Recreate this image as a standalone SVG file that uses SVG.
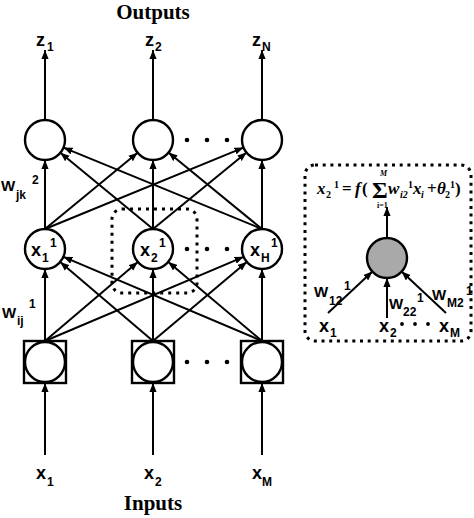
<svg xmlns="http://www.w3.org/2000/svg" width="474" height="518" viewBox="0 0 474 518">
<defs>
<marker id="ah" viewBox="0 0 10 8" refX="10" refY="4" markerWidth="9" markerHeight="7.5" markerUnits="userSpaceOnUse" orient="auto">
<path d="M0,0 L10,4 L0,8 z" fill="#000"/>
</marker>
<style>
.node{fill:#fff;stroke:#000;stroke-width:2.4}
.gray{fill:#a9a9a9;stroke:#000;stroke-width:2.4}
.edge{stroke:#000;stroke-width:2;fill:none;marker-end:url(#ah)}
.dot{fill:#000}
.box{fill:none;stroke:#000;stroke-width:3}
.lbl{font-family:"Liberation Sans",Arial,sans-serif;font-weight:bold;fill:#000}
.big{font-size:18px}
.w{font-size:15px}
.s{font-size:12px}
.title{font-family:"Liberation Serif","Times New Roman",serif;font-weight:bold;font-size:21px;text-anchor:middle;fill:#000}
.f{font-family:"Liberation Serif","Times New Roman",serif;font-weight:bold;font-style:italic;font-size:17px;fill:#000}
.fu{font-family:"Liberation Serif","Times New Roman",serif;font-weight:bold;font-size:17px;fill:#000}
.fs{font-family:"Liberation Serif","Times New Roman",serif;font-weight:bold;font-size:10px;fill:#000}
.sig{font-family:"Liberation Serif","Times New Roman",serif;font-weight:bold;font-size:24px;fill:#000}
.lim{font-family:"Liberation Serif","Times New Roman",serif;font-weight:bold;font-size:8px;fill:#000}
</style>
</defs>
<rect width="474" height="518" fill="#fff"/>

<text class="title" x="153" y="19">Outputs</text>
<text class="title" x="153" y="510">Inputs</text>

<g id="connectors">
<line class="edge" x1="45" y1="120" x2="45" y2="50"/>
<line class="edge" x1="153" y1="120" x2="153" y2="50"/>
<line class="edge" x1="262" y1="120" x2="262" y2="50"/>
<line class="edge" x1="45" y1="229" x2="45" y2="160"/>
<line class="edge" x1="45" y1="229" x2="137.6" y2="152.7"/>
<line class="edge" x1="45" y1="229" x2="243.5" y2="147.6"/>
<line class="edge" x1="153" y1="229" x2="60.4" y2="152.7"/>
<line class="edge" x1="153" y1="229" x2="153" y2="160"/>
<line class="edge" x1="153" y1="229" x2="246.5" y2="152.6"/>
<line class="edge" x1="262" y1="229" x2="63.5" y2="147.6"/>
<line class="edge" x1="262" y1="229" x2="168.5" y2="152.6"/>
<line class="edge" x1="262" y1="229" x2="262" y2="160"/>
<line class="edge" x1="45" y1="341" x2="45" y2="269"/>
<line class="edge" x1="45" y1="341" x2="137.8" y2="262"/>
<line class="edge" x1="45" y1="341" x2="243.6" y2="256.8"/>
<line class="edge" x1="153" y1="341" x2="60.2" y2="262"/>
<line class="edge" x1="153" y1="341" x2="153" y2="269"/>
<line class="edge" x1="153" y1="341" x2="246.7" y2="261.9"/>
<line class="edge" x1="262" y1="341" x2="63.4" y2="256.8"/>
<line class="edge" x1="262" y1="341" x2="168.3" y2="261.9"/>
<line class="edge" x1="262" y1="341" x2="262" y2="269"/>
<line class="edge" x1="45" y1="455" x2="45" y2="383"/>
<line class="edge" x1="153" y1="455" x2="153" y2="383"/>
<line class="edge" x1="262" y1="455" x2="262" y2="383"/>
<line class="edge" x1="387" y1="238" x2="387" y2="207"/>
<line class="edge" x1="328" y1="313" x2="372.4" y2="271.6"/>
<line class="edge" x1="387" y1="318" x2="387" y2="278"/>
<line class="edge" x1="446" y1="313" x2="401.6" y2="271.6"/>
</g>

<rect class="box" x="112" y="209" width="85" height="84" rx="10" stroke-dasharray="3 5"/>
<rect class="box" x="305" y="165" width="166" height="176" rx="10" stroke-dasharray="3 4.7"/>

<g id="out1"><circle class="node" cx="45" cy="140" r="20"/></g>
<g id="out2"><circle class="node" cx="153" cy="140" r="20"/></g>
<g id="outN"><circle class="node" cx="262" cy="140" r="20"/></g>

<g id="hid1"><circle class="node" cx="45" cy="249" r="20"/>
<text class="lbl big" x="31" y="256">x</text><text class="lbl s" x="42" y="262">1</text><text class="lbl s" x="50" y="247">1</text></g>
<g id="hid2"><circle class="node" cx="153" cy="249" r="20"/>
<text class="lbl big" x="140" y="256">x</text><text class="lbl s" x="151" y="262">2</text><text class="lbl s" x="159" y="247">1</text></g>
<g id="hidH"><circle class="node" cx="262" cy="249" r="20"/>
<text class="lbl big" x="250" y="256">x</text><text class="lbl s" x="261" y="262">H</text><text class="lbl s" x="271" y="247">1</text></g>

<g id="in1"><rect class="node" x="24" y="341" width="42" height="42"/><circle class="node" cx="45" cy="362" r="20"/></g>
<g id="in2"><rect class="node" x="132" y="341" width="42" height="42"/><circle class="node" cx="153" cy="362" r="20"/></g>
<g id="inM"><rect class="node" x="241" y="341" width="42" height="42"/><circle class="node" cx="262" cy="362" r="20"/></g>

<g id="dots">
<circle class="dot" cx="187" cy="140" r="2.3"/><circle class="dot" cx="207" cy="140" r="2.3"/><circle class="dot" cx="227" cy="140" r="2.3"/>
<circle class="dot" cx="187" cy="249" r="2.3"/><circle class="dot" cx="207" cy="249" r="2.3"/><circle class="dot" cx="227" cy="249" r="2.3"/>
<circle class="dot" cx="187" cy="362" r="2.3"/><circle class="dot" cx="207" cy="362" r="2.3"/><circle class="dot" cx="227" cy="362" r="2.3"/>
<circle class="dot" cx="402" cy="324" r="1.9"/><circle class="dot" cx="415" cy="324" r="1.9"/><circle class="dot" cx="428" cy="324" r="1.9"/>
</g>

<g id="zlabels">
<text class="lbl big" x="36" y="46">z</text><text class="lbl s" x="47" y="51">1</text>
<text class="lbl big" x="145" y="46">z</text><text class="lbl s" x="155" y="51">2</text>
<text class="lbl big" x="252" y="46">z</text><text class="lbl s" x="262" y="51">N</text>
</g>

<g id="xlabels">
<text class="lbl big" x="36" y="479">x</text><text class="lbl s" x="47" y="486">1</text>
<text class="lbl big" x="144" y="479">x</text><text class="lbl s" x="155" y="486">2</text>
<text class="lbl big" x="252" y="479">x</text><text class="lbl s" x="262" y="486">M</text>
</g>

<g id="wlabels">
<text class="lbl w" x="1" y="191">W</text><text class="lbl s" x="16" y="199">jk</text><text class="lbl s" x="32" y="184">2</text>
<text class="lbl w" x="2" y="318">W</text><text class="lbl s" x="17" y="325">ij</text><text class="lbl s" x="29" y="308">1</text>
</g>

<g id="detail">
<circle class="gray" cx="387" cy="258" r="20"/>
<text class="lbl w" x="314" y="297">W</text><text class="lbl s" x="329" y="305">12</text><text class="lbl s" x="344" y="290">1</text>
<text class="lbl w" x="389" y="309">W</text><text class="lbl s" x="403" y="316">22</text><text class="lbl s" x="417" y="302">1</text>
<text class="lbl w" x="432" y="300">W</text><text class="lbl s" x="447" y="307">M2</text><text class="lbl s" x="466" y="295">1</text>
<text class="lbl big" x="319" y="332">x</text><text class="lbl s" x="330" y="337">1</text>
<text class="lbl big" x="379" y="332">x</text><text class="lbl s" x="390" y="337">2</text>
<text class="lbl big" x="439" y="332">x</text><text class="lbl s" x="450" y="337">M</text>
</g>

<g id="formula">
<text class="f" x="317" y="194">x</text>
<text class="fs" x="326" y="198">2</text>
<text class="fs" x="334" y="188">1</text>
<text class="fu" x="342" y="194">=</text>
<text class="f" x="355" y="194">f</text>
<text class="fu" x="362" y="194">(</text>
<text class="sig" x="372" y="198">Σ</text>
<text class="lim" x="380" y="176" font-style="italic">M</text>
<text class="lim" x="377" y="208">i=1</text>
<text class="f" x="388" y="194">w</text>
<text class="fs" x="400" y="198" font-style="italic">i2</text>
<text class="fs" x="408" y="188">1</text>
<text class="f" x="413" y="194">x</text>
<text class="fs" x="421" y="198" font-style="italic">i</text>
<text class="fu" x="427" y="194">+</text>
<text class="f" x="437" y="194">θ</text>
<text class="fs" x="445" y="198">2</text>
<text class="fs" x="450" y="188">1</text>
<text class="fu" x="455" y="194">)</text>
</g>
</svg>
